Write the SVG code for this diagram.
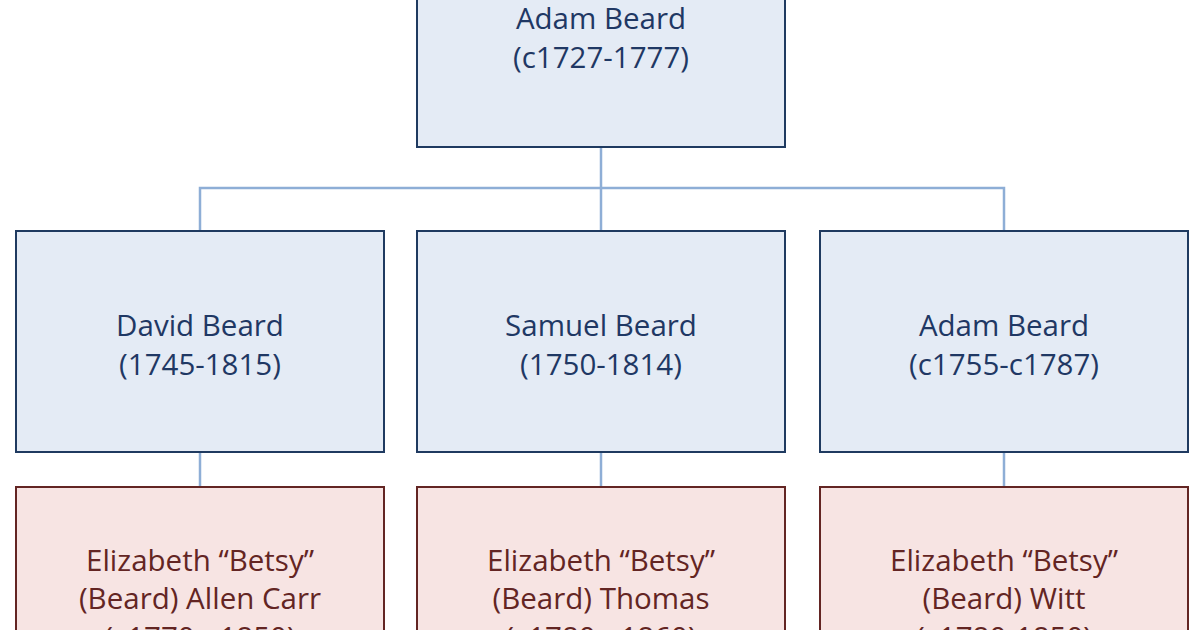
<svg xmlns="http://www.w3.org/2000/svg" width="1200" height="630" viewBox="0 0 1200 630">
<style>
.b{fill:#e4ebf5;stroke:#1f3a60;stroke-width:2}
.p{fill:#f7e4e3;stroke:#632523;stroke-width:2}
.c{fill:none;stroke:#8eaed6;stroke-width:2.5}
text{font-family:"Open Sans","Liberation Sans",sans-serif;font-size:29.5px;text-anchor:middle}
.tb{fill:#1f3864}
.tp{fill:#632523}
</style>
<rect width="1200" height="630" fill="#ffffff"/>
<g id="connectors">
<path class="c" d="M601 147V231M200 231V188H1004V231M200 452V487M601 452V487M1004 452V487"/>
</g>
<g id="adam-sr">
<rect class="b" x="417" y="-74" width="368" height="221"/>
<text class="tb" x="601" y="29">Adam Beard</text>
<text class="tb" x="601" y="68">(c1727-1777)</text>
</g>
<g id="david">
<rect class="b" x="16" y="231" width="368" height="221"/>
<text class="tb" x="200" y="336">David Beard</text>
<text class="tb" x="200" y="375">(1745-1815)</text>
</g>
<g id="samuel">
<rect class="b" x="417" y="231" width="368" height="221"/>
<text class="tb" x="601" y="336">Samuel Beard</text>
<text class="tb" x="601" y="375">(1750-1814)</text>
</g>
<g id="adam-jr">
<rect class="b" x="820" y="231" width="368" height="221"/>
<text class="tb" x="1004" y="336">Adam Beard</text>
<text class="tb" x="1004" y="375">(c1755-c1787)</text>
</g>
<g id="betsy-carr">
<rect class="p" x="16" y="487" width="368" height="221"/>
<text class="tp" x="200" y="571">Elizabeth “Betsy”</text>
<text class="tp" x="200" y="609">(Beard) Allen Carr</text>
<text class="tp" x="200" y="648">(c1770 - 1850)</text>
</g>
<g id="betsy-thomas">
<rect class="p" x="417" y="487" width="368" height="221"/>
<text class="tp" x="601" y="571">Elizabeth “Betsy”</text>
<text class="tp" x="601" y="609">(Beard) Thomas</text>
<text class="tp" x="601" y="648">(c1780 - 1860)</text>
</g>
<g id="betsy-witt">
<rect class="p" x="820" y="487" width="368" height="221"/>
<text class="tp" x="1004" y="571">Elizabeth “Betsy”</text>
<text class="tp" x="1004" y="609">(Beard) Witt</text>
<text class="tp" x="1004" y="648">(c1780-1850)</text>
</g>
</svg>
